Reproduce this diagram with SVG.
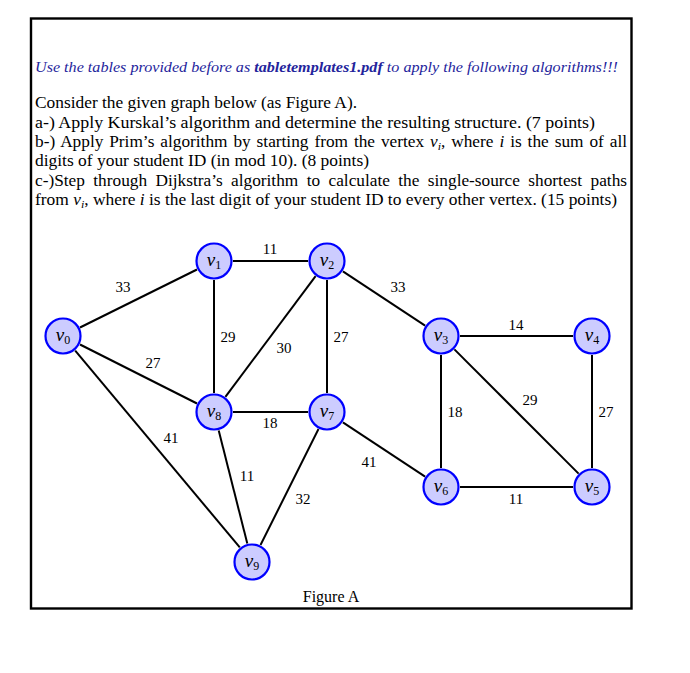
<svg xmlns="http://www.w3.org/2000/svg" width="690" height="673" viewBox="0 0 690 673">
<style>
.body{font-family:"Liberation Serif","Times New Roman",serif;font-size:16px;fill:#000}
.blue{font-family:"Liberation Serif","Times New Roman",serif;font-size:15.5px;font-style:italic;fill:#24249c}
.edge{stroke:#000;stroke-width:2;fill:none}
.node circle{fill:#ccccff;stroke:#0000ff;stroke-width:2.2}
.nl{font-family:"Liberation Serif","Times New Roman",serif;font-size:19px;font-style:italic;fill:#000;text-anchor:middle}
.nl .s{font-size:12px;font-style:normal}
.w{font-family:"Liberation Serif","Times New Roman",serif;font-size:15px;fill:#000;text-anchor:middle}
.it{font-style:italic}
</style>
<rect x="0" y="0" width="690" height="673" fill="#fff"/>
<rect x="31" y="18.5" width="600.5" height="590" fill="none" stroke="#000" stroke-width="2.4"/>

<text class="blue" x="35" y="72" textLength="583" lengthAdjust="spacingAndGlyphs">Use the tables provided before as <tspan font-weight="bold">tabletemplates1.pdf</tspan> to apply the following algorithms!!!</text>

<text class="body" x="35" y="108" textLength="322" lengthAdjust="spacingAndGlyphs">Consider the given graph below (as Figure A).</text>
<text class="body" x="35" y="128" textLength="560" lengthAdjust="spacingAndGlyphs">a-) Apply Kurskal’s algorithm and determine the resulting structure. (7 points)</text>
<text class="body" x="35" y="147" word-spacing="1.5" textLength="592" lengthAdjust="spacingAndGlyphs">b-) Apply Prim’s algorithm by starting from the vertex <tspan class="it">v</tspan><tspan class="it" font-size="11" dy="3">i</tspan><tspan dy="-3">, where </tspan><tspan class="it">i</tspan> is the sum of all</text>
<text class="body" x="35" y="166" textLength="334" lengthAdjust="spacingAndGlyphs">digits of your student ID (in mod 10). (8 points)</text>
<text class="body" x="35" y="186" word-spacing="3.8" textLength="592" lengthAdjust="spacingAndGlyphs">c-)Step through Dijkstra’s algorithm to calculate the single-source shortest paths</text>
<text class="body" x="35" y="205" textLength="582" lengthAdjust="spacingAndGlyphs">from <tspan class="it">v</tspan><tspan class="it" font-size="11" dy="3">i</tspan><tspan dy="-3">, where </tspan><tspan class="it">i</tspan> is the last digit of your student ID to every other vertex. (15 points)</text>

<g id="connectors">
<line class="edge" x1="80" y1="327.5" x2="197" y2="269.5"/>
<line class="edge" x1="233" y1="261" x2="308" y2="261"/>
<line class="edge" x1="342.9" y1="271.4" x2="425.1" y2="325.6"/>
<line class="edge" x1="460" y1="336" x2="573" y2="336"/>
<line class="edge" x1="80" y1="344.5" x2="197" y2="403.5"/>
<line class="edge" x1="214" y1="280" x2="214" y2="393"/>
<line class="edge" x1="315.6" y1="276.2" x2="225.4" y2="396.8"/>
<line class="edge" x1="327" y1="280" x2="327" y2="393"/>
<line class="edge" x1="233" y1="412" x2="308" y2="412"/>
<line class="edge" x1="75.2" y1="350.6" x2="239.8" y2="547.4"/>
<line class="edge" x1="218.7" y1="430.4" x2="247.3" y2="543.6"/>
<line class="edge" x1="318.5" y1="429" x2="260.5" y2="545"/>
<line class="edge" x1="342.9" y1="422.4" x2="425.1" y2="476.6"/>
<line class="edge" x1="441" y1="355" x2="441" y2="468"/>
<line class="edge" x1="454.4" y1="349.4" x2="578.6" y2="473.6"/>
<line class="edge" x1="592" y1="355" x2="592" y2="468"/>
<line class="edge" x1="460" y1="487" x2="573" y2="487"/>
</g>

<g id="weights">
<text class="w" x="123" y="292">33</text>
<text class="w" x="270" y="254">11</text>
<text class="w" x="398" y="292">33</text>
<text class="w" x="516" y="330">14</text>
<text class="w" x="228" y="342">29</text>
<text class="w" x="284" y="353">30</text>
<text class="w" x="341" y="342">27</text>
<text class="w" x="153" y="368">27</text>
<text class="w" x="270" y="428">18</text>
<text class="w" x="171" y="443">41</text>
<text class="w" x="247" y="481">11</text>
<text class="w" x="303" y="504">32</text>
<text class="w" x="369" y="467">41</text>
<text class="w" x="455" y="417">18</text>
<text class="w" x="530" y="405">29</text>
<text class="w" x="606" y="417">27</text>
<text class="w" x="516" y="504">11</text>
</g>

<g id="v0" class="node"><circle cx="63" cy="336" r="17.5"/><text class="nl" x="63" y="341">v<tspan class="s" dy="3">0</tspan></text></g>
<g id="v1" class="node"><circle cx="214" cy="261" r="17.5"/><text class="nl" x="214" y="266">v<tspan class="s" dy="3">1</tspan></text></g>
<g id="v2" class="node"><circle cx="327" cy="261" r="17.5"/><text class="nl" x="327" y="266">v<tspan class="s" dy="3">2</tspan></text></g>
<g id="v3" class="node"><circle cx="441" cy="336" r="17.5"/><text class="nl" x="441" y="341">v<tspan class="s" dy="3">3</tspan></text></g>
<g id="v4" class="node"><circle cx="592" cy="336" r="17.5"/><text class="nl" x="592" y="341">v<tspan class="s" dy="3">4</tspan></text></g>
<g id="v5" class="node"><circle cx="592" cy="487" r="17.5"/><text class="nl" x="592" y="492">v<tspan class="s" dy="3">5</tspan></text></g>
<g id="v6" class="node"><circle cx="441" cy="487" r="17.5"/><text class="nl" x="441" y="492">v<tspan class="s" dy="3">6</tspan></text></g>
<g id="v7" class="node"><circle cx="327" cy="412" r="17.5"/><text class="nl" x="327" y="417">v<tspan class="s" dy="3">7</tspan></text></g>
<g id="v8" class="node"><circle cx="214" cy="412" r="17.5"/><text class="nl" x="214" y="417">v<tspan class="s" dy="3">8</tspan></text></g>
<g id="v9" class="node"><circle cx="252" cy="562" r="17.5"/><text class="nl" x="252" y="567">v<tspan class="s" dy="3">9</tspan></text></g>

<text class="body" x="331" y="602" text-anchor="middle">Figure A</text>
</svg>
